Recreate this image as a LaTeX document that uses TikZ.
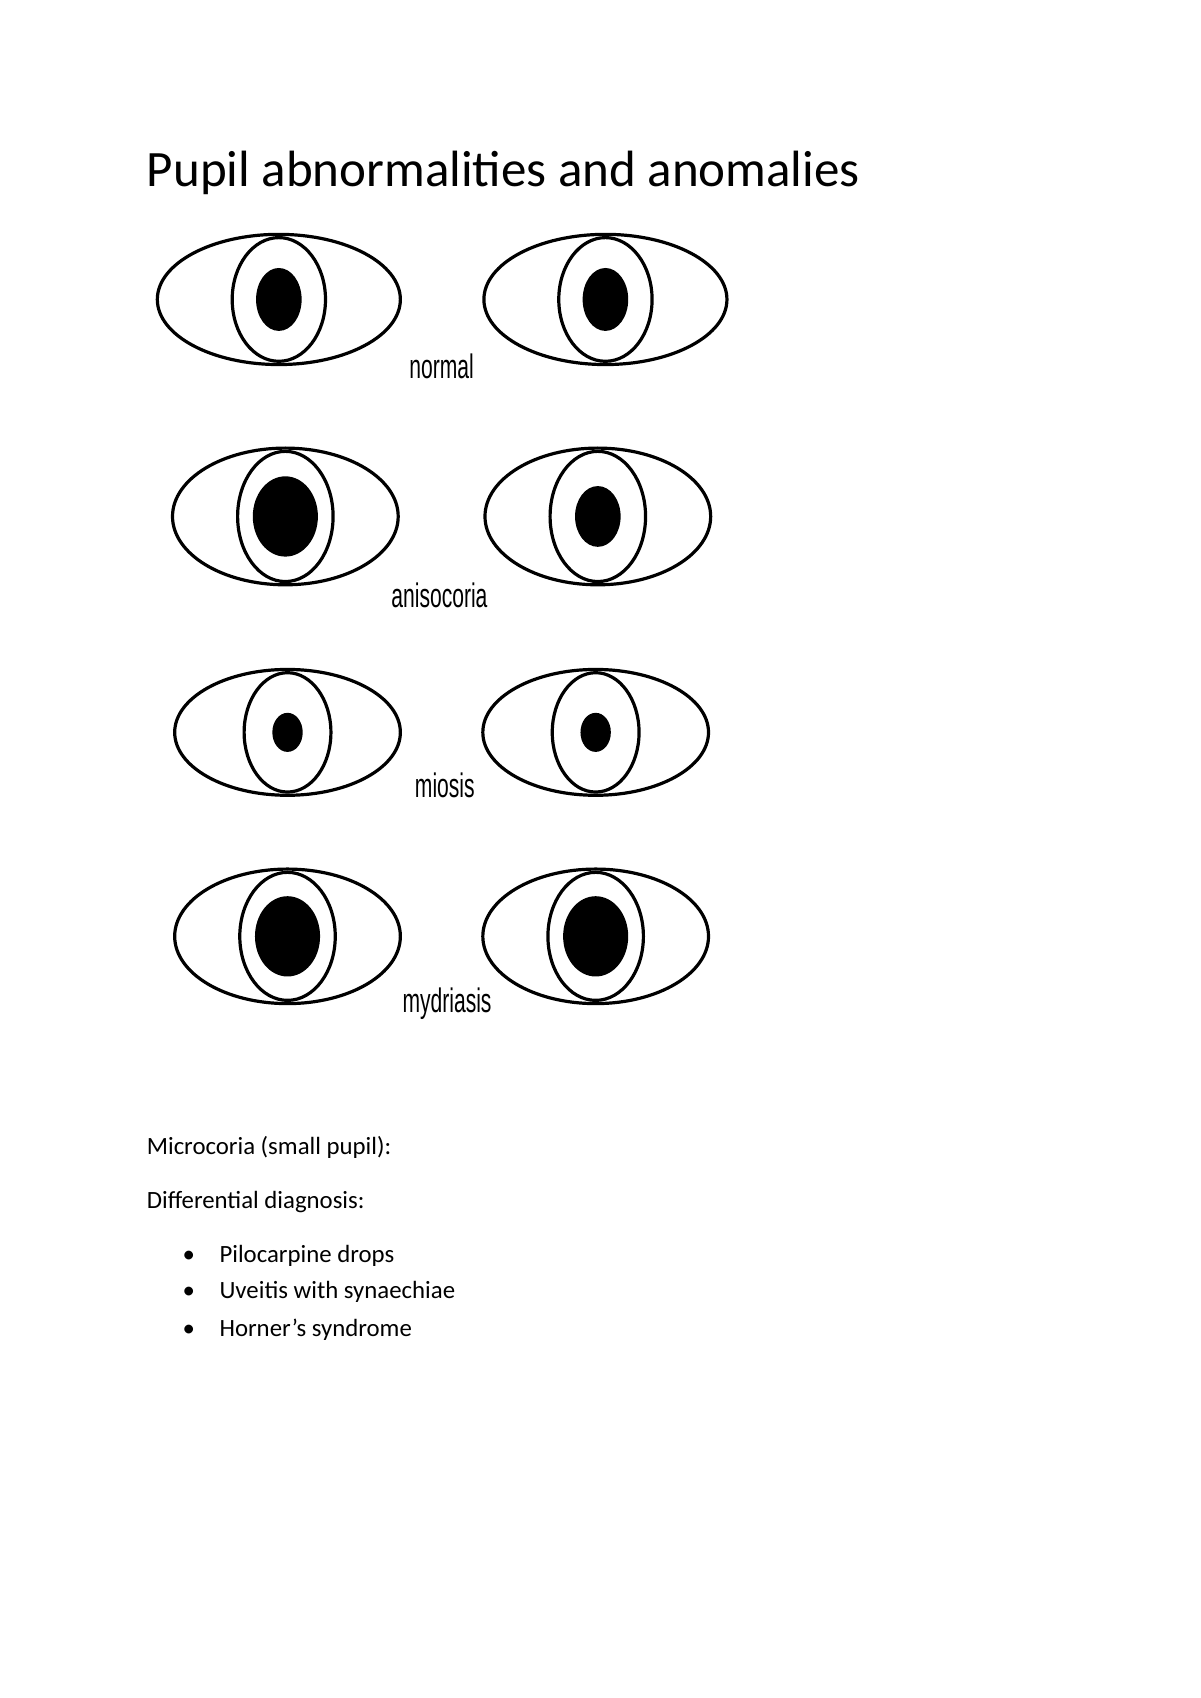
\documentclass[tikz,border=0pt]{standalone}
\usepackage{fontspec}
\setmainfont{Carlito}
\newfontfamily\lblfont{Liberation Sans}
\begin{document}
\begin{tikzpicture}[x=0.5425pt,y=-0.5425pt,
  eyeline/.style={line width=1.6pt},
  lbl/.style={font=\lblfont\fontsize{17}{17}\selectfont, inner sep=0pt},
  body/.style={font=\fontsize{12.4}{14}\selectfont, anchor=base west, inner sep=0pt}]
\useasboundingbox[fill=white] (0,0) rectangle (1106,1565);
\newcommand{\myeye}[7]{%
  \draw[eyeline] (#1,#2) ellipse [x radius=#3, y radius=#4];
  \draw[eyeline] (#1,#2) ellipse [x radius=#5, y radius=#4-3];
  \fill (#1,#2) ellipse [x radius=#6, y radius=#7];}
\node[body, font=\fontsize{25.5}{28}\selectfont] (title) at (135,172) {Pupil abnormalities and anomalies};
\myeye{257}{276}{112}{60}{43}{21}{29}
\myeye{558}{276}{112}{60}{43}{21}{29}
\myeye{263}{476}{104}{63}{44}{30}{37}
\myeye{551}{476}{104}{63}{44}{21}{28}
\myeye{265}{675}{104}{58}{40}{14}{18}
\myeye{549}{675}{104}{58}{40}{14}{18}
\myeye{265}{863}{104}{62}{44}{30}{37}
\myeye{549}{863}{104}{62}{44}{30}{37}
\node[lbl] (l1) at (407,338) {\scalebox{0.62}[1]{normal}};
\node[lbl] (l2) at (405,549) {\scalebox{0.62}[1]{anisocoria}};
\node[lbl] (l3) at (410,724) {\scalebox{0.62}[1]{miosis}};
\node[lbl] (l4) at (412,925) {\scalebox{0.62}[1]{mydriasis}};
\node[body] (m) at (135,1064) {Microcoria (small pupil):};
\node[body] (d) at (135,1114) {Differential diagnosis:};
\node[body] (b1) at (168,1164) {\textbullet};
\node[body] (t1) at (202,1164) {Pilocarpine drops};
\node[body] (b2) at (168,1197) {\textbullet};
\node[body] (t2) at (202,1197) {Uveitis with synaechiae};
\node[body] (b3) at (168,1232) {\textbullet};
\node[body] (t3) at (202,1232) {Horner’s syndrome};
\end{tikzpicture}
\end{document}
